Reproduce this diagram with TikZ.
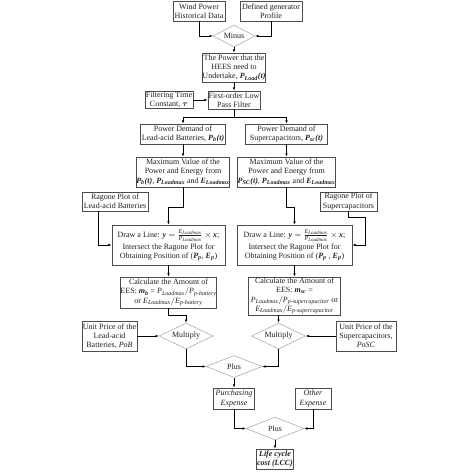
\documentclass[tikz,border=0pt]{standalone}
\usepackage{amsmath}
\usepackage{fontspec}
\setmainfont{Liberation Serif}
\usetikzlibrary{shapes.geometric,arrows.meta}
\definecolor{boxc}{gray}{0.3}
\definecolor{diac}{gray}{0.68}
\definecolor{txtc}{gray}{0.13}
\newcommand{\bi}[1]{\textbf{\textit{#1}}}
\newcommand{\ti}[1]{\text{\textit{#1}}}
\newcommand{\tb}[1]{\text{\bi{#1}}}
\begin{document}
\begin{tikzpicture}[x=1pt,y=-1pt,
  font=\fontsize{8}{9.2}\selectfont,
  sz/.style 2 args={minimum width=#1pt, minimum height=#2pt},
  box/.style={draw=boxc, line width=0.9pt, fill=white, inner sep=0pt, align=center, text=txtc},
  dia/.style={diamond, aspect=2, draw=diac, line width=0.6pt, fill=white, inner sep=0pt, text=txtc},
  arr/.style={-{Latex[length=3.2pt,width=2.6pt]}, line width=0.6pt, black},
  ln/.style={line width=0.6pt, black}]
\useasboundingbox (0,0) rectangle (474,474);

% nodes
\node[box, sz={52}{20}] (wind) at (199,11) {Wind Power\\Historical Data};
\node[box, sz={62}{20}] (gen) at (271,11) {Defined generator\\Profile};
\node[dia, sz={42}{22}] (minus) at (234,36) {Minus};
\node[box, sz={63}{29}] (hees) at (234,67.5) {The Power that the\\HEES need to\\Undertake, $\tb{P}_{\tb{Load}}\tb{(t)}$};
\node[box, sz={52}{18}] (filt) at (234,100) {First-order Low\\Pass Filter};
\node[box, sz={48}{17}] (tau) at (169,100) {Filtering Time\\Constant, $\boldsymbol{\tau}$};
\coordinate (splt) at (234,117);

\node[box, sz={85}{20}] (pdb) at (183,134) {Power Demand of\\Lead-acid Batteries, $\tb{P}_{\tb{b}}\tb{(t)}$};
\node[box, sz={82}{20}] (pdsc) at (286.5,134) {Power Demand of\\Supercapacitors, $\tb{P}_{\tb{sc}}\tb{(t)}$};

\node[box, sz={90}{30}] (maxb) at (183,172) {Maximum Value of the\\Power and Energy from\\$\tb{P}_{\tb{b}}\tb{(t)}$, $\tb{P}_{\tb{Loadmax}}$ and $\tb{E}_{\tb{Loadmax}}$};
\node[box, sz={91}{30}] (maxsc) at (286.5,172) {Maximum Value of the\\Power and Energy from\\$\tb{P}_{\tb{SC}}\tb{(t)}$, $\tb{P}_{\tb{Loadmax}}$ and $\tb{E}_{\tb{Loadmax}}$};

\node[box, sz={66}{19}] (ragb) at (115,201.5) {Ragone Plot of\\Lead-acid Batteries};
\node[box, sz={57}{19}] (ragsc) at (348.5,201.5) {Ragone Plot of\\Supercapacitors};

\node[box, sz={113}{40}] (drawb) at (168.5,245) {Draw a Line: $\tb{y}=\frac{\ti{E}_{\ti{Loadmax}}}{\ti{P}_{\ti{Loadmax}}}\times\tb{x}$;\\[1pt]Intersect the Ragone Plot for\\Obtaining Position of ($\tb{P}_{\tb{p}}$, $\tb{E}_{\tb{p}}$)};
\node[box, sz={115}{40}] (drawsc) at (294.5,245) {Draw a Line: $\tb{y}=\frac{\ti{E}_{\ti{Loadmax}}}{\ti{P}_{\ti{Loadmax}}}\times\tb{x}$;\\[1pt]Intersect the Ragone Plot for\\Obtaining Position of ($\tb{P}_{\tb{p}}$ , $\tb{E}_{\tb{p}}$)};

\node[box, sz={94}{31}] (calcb) at (168.5,292.5) {Calculate the Amount of\\EES: $\tb{m}_{\tb{b}}$ = $\ti{P}_{\ti{Loadmax}}/\ti{P}_{\ti{p-battery}}$\\or $\ti{E}_{\ti{Loadmax}}/\ti{E}_{\ti{p-battery}}$};
\node[box, sz={92}{38}] (calcsc) at (294.5,296) {Calculate the Amount of\\EES: $\tb{m}_{\tb{sc}}$ =\\$\ti{P}_{\ti{Loadmax}}/\ti{P}_{\ti{p-supercapacitor}}$ or\\$\ti{E}_{\ti{Loadmax}}/\ti{E}_{\ti{p-supercapacitor}}$};

\node[dia, sz={54}{26}] (mulb) at (186,336) {Multiply};
\node[dia, sz={54}{26}] (mulsc) at (278.5,336) {Multiply};
\node[box, sz={55}{30}] (upb) at (109.5,336) {Unit Price of the\\Lead-acid\\Batteries, \textit{PoB}};
\node[box, sz={60}{30}] (upsc) at (366,336) {Unit Price of the\\Supercapacitors,\\\textit{PoSC}};

\node[dia, sz={56}{22}] (plus1) at (234,366.5) {Plus};
\node[box, sz={41}{21}] (purch) at (234,398.5) {\textit{Purchasing}\\\textit{Expense}};
\node[box, sz={36}{21}] (other) at (313,398.5) {\textit{Other}\\\textit{Expense}};
\node[dia, sz={58}{23}] (plus2) at (275,428.5) {Plus};
\node[box, sz={37}{20}] (lcc) at (275,459) {\bi{Life cycle}\\\bi{cost (LCC)}};

% helper coordinates
\coordinate (jb) at (183,207);
\coordinate (jsc) at (286.5,207);
\coordinate (rb) at (98,245);
\coordinate (rs1) at (365,217);
\coordinate (cb) at (186,315);

% connectors
\draw[arr] (wind.south) |- (minus.west);
\draw[arr] (gen.south) |- (minus.east);
\draw[arr] (minus.south) -- (hees.north);
\draw[arr] (hees.south) -- (filt.north);
\draw[arr] (tau.east) -- (filt.west);
\draw[ln] (filt.south) -- (splt);
\draw[arr] (splt) -| (pdb.north);
\draw[arr] (splt) -| (pdsc.north);
\draw[arr] (pdb.south) -- (maxb.north);
\draw[arr] (pdsc.south) -- (maxsc.north);
\draw[arr] (maxb.south) -- (jb) -| (drawb.north);
\draw[arr] (maxsc.south) -- (jsc) -| (drawsc.north);
\draw[arr] (ragb.south -| rb) -- (rb) -- (drawb.west);
\draw[arr] (ragsc.south) |- (rs1) |- (drawsc.east);
\draw[arr] (drawb.south) -- (calcb.north);
\draw[arr] (drawsc.south) -- (calcsc.north);
\draw[arr] (calcb.south) |- (cb) -- (mulb.north);
\draw[arr] (calcsc.south -| mulsc.north) -- (mulsc.north);
\draw[arr] (upb.east) -- (mulb.west);
\draw[arr] (upsc.west) -- (mulsc.east);
\draw[arr] (mulb.south) |- (plus1.west);
\draw[arr] (mulsc.south) |- (plus1.east);
\draw[arr] (plus1.south) -- (purch.north);
\draw[arr] (purch.south) |- (plus2.west);
\draw[arr] (other.south) |- (plus2.east);
\draw[arr] (plus2.south) -- (lcc.north);
\end{tikzpicture}
\end{document}
